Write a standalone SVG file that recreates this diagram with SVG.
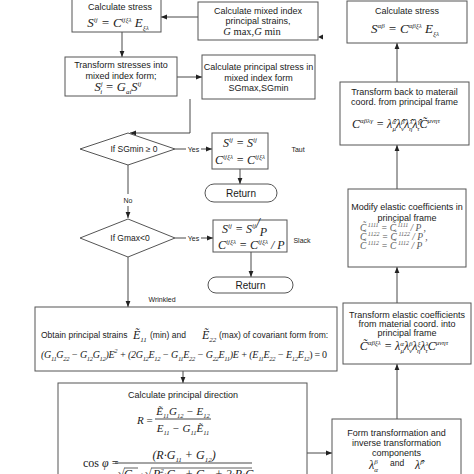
<svg xmlns="http://www.w3.org/2000/svg" width="474" height="474" viewBox="0 0 474 474">
<defs>
<style>
.bx{fill:#fff;stroke:#555;stroke-width:1}
.ln{fill:none;stroke:#333;stroke-width:0.9}
.t{font-family:"Liberation Sans",Arial,sans-serif;font-size:9px;fill:#1a1a1a;text-anchor:middle}
.tl{font-family:"Liberation Sans",Arial,sans-serif;font-size:8.5px;fill:#1a1a1a}
.lb{font-family:"Liberation Sans",Arial,sans-serif;font-size:7px;fill:#1a1a1a;text-anchor:middle}
.m{font-family:"Liberation Serif","Times New Roman",serif;font-style:italic;font-size:12px;fill:#1a1a1a}
.mc{font-family:"Liberation Serif","Times New Roman",serif;font-style:italic;font-size:12px;fill:#1a1a1a;text-anchor:middle}
.r{font-style:normal}
.s{font-size:7px}
.q{font-size:6.5px}
.g{fill:#555;font-size:9.5px}
</style>
<marker id="ah" viewBox="0 0 10 10" refX="10" refY="5" markerWidth="6" markerHeight="6" orient="auto" markerUnits="userSpaceOnUse">
<path d="M0,1 L10,5 L0,9 z" fill="#222"/>
</marker>
</defs>
<rect width="474" height="474" fill="#fff"/>

<g id="connectors">
<path class="ln" d="M198 17 H161" marker-end="url(#ah)"/>
<path class="ln" d="M122 32 V57" marker-end="url(#ah)"/>
<path class="ln" d="M177 77 H202" marker-end="url(#ah)"/>
<path class="ln" d="M190 99 V133 H130" marker-end="url(#ah)"/>
<path class="ln" d="M175 149 H186"/>
<path class="ln" d="M201 149 H212" marker-end="url(#ah)"/>
<path class="ln" d="M240 169 V184" marker-end="url(#ah)"/>
<path class="ln" d="M128 165 V194"/>
<path class="ln" d="M128 206 V218" marker-end="url(#ah)"/>
<path class="ln" d="M175 238 H186"/>
<path class="ln" d="M201 238 H213" marker-end="url(#ah)"/>
<path class="ln" d="M251 252 V277" marker-end="url(#ah)"/>
<path class="ln" d="M128 257 V307" marker-end="url(#ah)"/>
<path class="ln" d="M183 371 V383" marker-end="url(#ah)"/>
<path class="ln" d="M307 453 H332" marker-end="url(#ah)"/>
<path class="ln" d="M397 419 V364" marker-end="url(#ah)"/>
<path class="ln" d="M397 303 V267" marker-end="url(#ah)"/>
<path class="ln" d="M397 189 V145" marker-end="url(#ah)"/>
<path class="ln" d="M397 82 V43" marker-end="url(#ah)"/>
<path d="M318 37 L323 34.5 L323 39.5 z" fill="#222"/>
<text class="lb" x="193.5" y="151.5">Yes</text>
<text class="lb" x="128" y="202.5">No</text>
<text class="lb" x="193.5" y="240.5">Yes</text>
<text class="lb" x="162" y="302">Wrinkled</text>
<text class="lb" x="298" y="151.5">Taut</text>
<text class="lb" x="302" y="243">Slack</text>
</g>

<g id="calc-stress-left">
<rect class="bx" x="72" y="-1" width="89" height="33"/>
<text class="t" x="120" y="10">Calculate stress</text>
<text class="mc" x="118" y="27" style="font-size:13px">S<tspan class="s" dy="-5">ij</tspan><tspan dy="5"> = C</tspan><tspan class="s" dy="-5">ijξλ</tspan><tspan dy="5"> E</tspan><tspan class="s" dy="3">ξλ</tspan></text>
</g>

<g id="calc-mixed-strains">
<rect class="bx" x="198" y="2" width="120" height="38"/>
<text class="t" x="258" y="14">Calculate mixed index</text>
<text class="t" x="258" y="24">principal strains,</text>
<text class="mc" x="252" y="35" style="font-size:10.5px">G<tspan class="r"> max,</tspan>G<tspan class="r"> min</tspan></text>
</g>

<g id="transform-stresses">
<rect class="bx" x="65" y="57" width="112" height="39"/>
<text class="t" x="121" y="68">Transform stresses into</text>
<text class="t" x="121" y="79">mixed index form;</text>
<text class="mc" x="118" y="91" style="font-size:12.5px">S<tspan class="s" dy="-5">j</tspan><tspan class="s" dx="-2.5" dy="8">i</tspan><tspan dy="-3"> = G</tspan><tspan class="s" dy="3">ai</tspan><tspan dy="-3">S</tspan><tspan class="s" dy="-5">ij</tspan></text>
</g>

<g id="calc-principal-stress">
<rect class="bx" x="202" y="55" width="113" height="44"/>
<text class="t" x="258.5" y="70">Calculate principal stress in</text>
<text class="t" x="258.5" y="81">mixed index form</text>
<text class="t" x="258.5" y="91">SGmax,SGmin</text>
</g>

<g id="if-sgmin">
<polygon class="bx" points="128,133 175,149 128,165 80,149"/>
<text class="t" x="134" y="152" style="font-size:8.5px">If SGmin ≥ 0</text>
</g>

<g id="taut-box">
<rect class="bx" x="212" y="133" width="56" height="36"/>
<text class="mc" x="240" y="147">S<tspan class="s" dy="-5">ij</tspan><tspan dy="5"> = S</tspan><tspan class="s" dy="-5">ij</tspan></text>
<text class="mc" x="240" y="164">C<tspan class="s" dy="-5">ijξλ</tspan><tspan dy="5"> = C</tspan><tspan class="s" dy="-5">ijξλ</tspan></text>
</g>

<g id="return-1">
<rect class="bx" x="205" y="184" width="72" height="18" rx="9"/>
<text class="t" x="241" y="196.5" style="font-size:10px">Return</text>
</g>

<g id="if-gmax">
<polygon class="bx" points="128,219 175,238 128,257 80,238"/>
<text class="t" x="130" y="241" style="font-size:8.5px">If Gmax&lt;0</text>
</g>

<g id="slack-box">
<rect class="bx" x="213" y="220" width="74" height="32"/>
<text class="m" x="222" y="233">S<tspan class="s" dy="-5">ij</tspan><tspan dy="5"> = S</tspan><tspan class="s" dy="-5">ij</tspan><tspan dy="0" style="font-size:14px">/</tspan><tspan dy="8">P</tspan></text>
<text class="m" x="218" y="249">C<tspan class="s" dy="-5">ijξλ</tspan><tspan dy="5"> = C</tspan><tspan class="s" dy="-5">ijξλ</tspan><tspan dy="5"> / P</tspan></text>
</g>

<g id="return-2">
<rect class="bx" x="208" y="277" width="85" height="16" rx="8"/>
<text class="t" x="250.5" y="288.5" style="font-size:10px">Return</text>
</g>

<g id="obtain-principal-strains">
<rect class="bx" x="35" y="307" width="302" height="64"/>
<text class="tl" x="41" y="338">Obtain principal strains</text>
<text class="m" x="133" y="339">Ẽ<tspan class="s" dy="3">11</tspan></text>
<text class="tl" x="150" y="338">(min) and</text>
<text class="m" x="202" y="339">Ẽ<tspan class="s" dy="3">22</tspan></text>
<text class="tl" x="219" y="338">(max) of covariant form from:</text>
<text class="m" x="41" y="358" textLength="286" lengthAdjust="spacing" style="font-size:10px">(G<tspan class="q" dy="3">11</tspan><tspan dy="-3">G</tspan><tspan class="q" dy="3">22</tspan><tspan dy="-3"> − G</tspan><tspan class="q" dy="3">12</tspan><tspan dy="-3">G</tspan><tspan class="q" dy="3">12</tspan><tspan dy="-3">)E</tspan><tspan class="q" dy="-5">2</tspan><tspan dy="5"> + (2G</tspan><tspan class="q" dy="3">12</tspan><tspan dy="-3">E</tspan><tspan class="q" dy="3">12</tspan><tspan dy="-3"> − G</tspan><tspan class="q" dy="3">11</tspan><tspan dy="-3">E</tspan><tspan class="q" dy="3">22</tspan><tspan dy="-3"> − G</tspan><tspan class="q" dy="3">22</tspan><tspan dy="-3">E</tspan><tspan class="q" dy="3">11</tspan><tspan dy="-3">)E + (E</tspan><tspan class="q" dy="3">11</tspan><tspan dy="-3">E</tspan><tspan class="q" dy="3">22</tspan><tspan dy="-3"> − E</tspan><tspan class="q" dy="3">12</tspan><tspan dy="-3">E</tspan><tspan class="q" dy="3">12</tspan><tspan dy="-3" class="r">) = 0</tspan></text>
</g>

<g id="calc-principal-direction">
<rect class="bx" x="58" y="383" width="249" height="100"/>
<text class="t" x="183" y="398">Calculate principal direction</text>
<text class="m" x="137" y="424" style="font-size:11px">R <tspan class="r">=</tspan></text>
<text class="mc" x="183" y="415" style="font-size:11px">Ẽ<tspan class="q" dy="3">11</tspan><tspan dy="-3">G</tspan><tspan class="q" dy="3">12</tspan><tspan dy="-3"> − E</tspan><tspan class="q" dy="3">12</tspan></text>
<path d="M155 419 H211" stroke="#1a1a1a" stroke-width="0.8"/>
<text class="mc" x="183" y="432" style="font-size:11px">E<tspan class="q" dy="3">11</tspan><tspan dy="-3"> − G</tspan><tspan class="q" dy="3">11</tspan><tspan dy="-3">Ẽ</tspan><tspan class="q" dy="3">11</tspan></text>
<text class="m" x="83" y="467"><tspan class="r">cos</tspan> φ <tspan class="r">=</tspan></text>
<text class="mc" x="184" y="459">(R·G<tspan class="s" dy="3">11</tspan><tspan dy="-3"> + G</tspan><tspan class="s" dy="3">12</tspan><tspan dy="-3">)</tspan></text>
<path d="M115 463 H252" stroke="#1a1a1a" stroke-width="0.8"/>
<text class="m" x="118" y="478" style="font-style:normal">√</text>
<path d="M124 468 H138" stroke="#1a1a1a" stroke-width="0.7"/>
<text class="m" x="124" y="478">G<tspan class="s" dy="3">11</tspan></text>
<text class="m" x="140" y="478" style="font-style:normal">·</text>
<text class="m" x="145" y="478" style="font-style:normal">√</text>
<path d="M151 468 H252" stroke="#1a1a1a" stroke-width="0.7"/>
<text class="m" x="153" y="478">R<tspan class="s" dy="-5">2</tspan><tspan dy="5">·G</tspan><tspan class="s" dy="3">11</tspan><tspan dy="-3"> + G</tspan><tspan class="s" dy="3">22</tspan><tspan dy="-3"> + 2·R·G</tspan><tspan class="s" dy="3">12</tspan></text>
</g>

<g id="form-transformation">
<rect class="bx" x="332" y="419" width="129" height="70"/>
<text class="t" x="396.5" y="436">Form transformation and</text>
<text class="t" x="396.5" y="446">inverse transformation</text>
<text class="t" x="396.5" y="456">components</text>
<text class="m" x="369" y="469">λ<tspan class="s" dy="-5">β</tspan><tspan class="s" dx="-3.5" dy="8">α</tspan></text>
<text class="tl" x="390" y="466">and</text>
<text class="m" x="415" y="469">λ̂<tspan class="s" dy="-5">β</tspan></text>
</g>

<g id="transform-elastic">
<rect class="bx" x="343" y="303" width="128" height="61"/>
<text class="t" x="407" y="318">Transform elastic coefficients</text>
<text class="t" x="407" y="327">from material coord. into</text>
<text class="t" x="407" y="336">principal frame</text>
<text class="mc" x="404" y="350" style="font-size:12px">C̃<tspan class="s" dy="-5">αβξλ</tspan><tspan dy="5"> = λ</tspan><tspan class="s" dy="-4">α</tspan><tspan class="s" dx="-3.5" dy="7">μ</tspan><tspan dy="-3">λ</tspan><tspan class="s" dy="-4">β</tspan><tspan class="s" dx="-3.5" dy="7">ν</tspan><tspan dy="-3">λ</tspan><tspan class="s" dy="-4">ξ</tspan><tspan class="s" dx="-3.5" dy="7">η</tspan><tspan dy="-3">λ</tspan><tspan class="s" dy="-4">λ</tspan><tspan class="s" dx="-3.5" dy="7">τ</tspan><tspan dy="-3">C</tspan><tspan class="s" dy="-5">μνητ</tspan></text>
</g>

<g id="modify-elastic">
<rect class="bx" x="348" y="189" width="118" height="78"/>
<text class="t" x="407" y="210">Modify elastic coefficients in</text>
<text class="t" x="407" y="221">principal frame</text>
<text class="m g" x="360" y="231">C̃<tspan class="s" dy="-4" style="font-size:6px"> 1111</tspan><tspan dy="4">   = C̃</tspan><tspan class="s" dy="-4" style="font-size:6px"> 1111</tspan><tspan dy="4">    / P ,</tspan></text>
<text class="m g" x="360" y="240">C̃<tspan class="s" dy="-4" style="font-size:6px"> 1122</tspan><tspan dy="4">   = C̃</tspan><tspan class="s" dy="-4" style="font-size:6px"> 1122</tspan><tspan dy="4">    / P ,</tspan></text>
<text class="m g" x="360" y="249">C̃<tspan class="s" dy="-4" style="font-size:6px"> 1112</tspan><tspan dy="4">   = C̃</tspan><tspan class="s" dy="-4" style="font-size:6px"> 1112</tspan><tspan dy="4">    / P</tspan></text>
</g>

<g id="transform-back">
<rect class="bx" x="340" y="82" width="129" height="63"/>
<text class="t" x="404.5" y="95">Transform back to materail</text>
<text class="t" x="404.5" y="105">coord. from principal frame</text>
<text class="mc" x="396" y="128" style="font-size:12px">C<tspan class="s" dy="-5">αβλγ</tspan><tspan dy="5"> = λ̂</tspan><tspan class="s" dy="-4">α</tspan><tspan class="s" dx="-3.5" dy="7">μ</tspan><tspan dy="-3">λ̂</tspan><tspan class="s" dy="-4">β</tspan><tspan class="s" dx="-3.5" dy="7">ν</tspan><tspan dy="-3">λ̂</tspan><tspan class="s" dy="-4">λ</tspan><tspan class="s" dx="-3.5" dy="7">η</tspan><tspan dy="-3">λ̂</tspan><tspan class="s" dy="-4">γ</tspan><tspan class="s" dx="-3.5" dy="7">τ</tspan><tspan dy="-3">C̃</tspan><tspan class="s" dy="-5">μνητ</tspan></text>
</g>

<g id="calc-stress-right">
<rect class="bx" x="347" y="1" width="120" height="42"/>
<text class="t" x="407" y="14">Calculate stress</text>
<text class="mc" x="405" y="33" style="font-size:13px">S<tspan class="s" dy="-5">αβ</tspan><tspan dy="5"> = C</tspan><tspan class="s" dy="-5">αβξλ</tspan><tspan dy="5"> E</tspan><tspan class="s" dy="3">ξλ</tspan></text>
</g>
</svg>
